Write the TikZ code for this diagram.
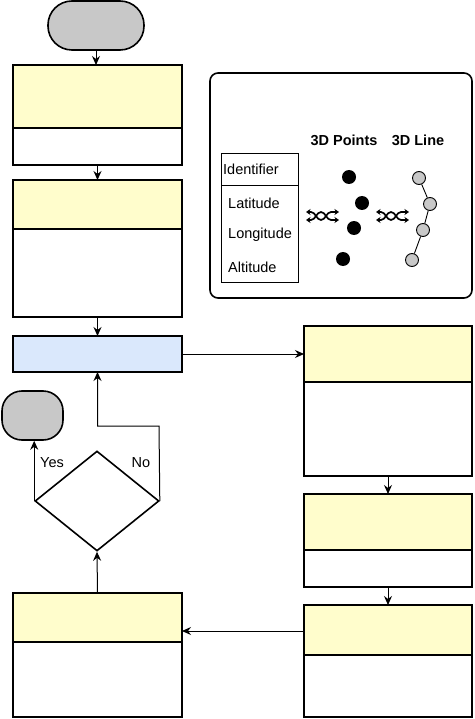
\documentclass[tikz,border=0pt]{standalone}
\usepackage{fontspec}
\setmainfont{Liberation Sans}
\usetikzlibrary{arrows.meta,shapes.geometric,positioning}
\definecolor{hdryellow}{HTML}{FFFDCC}
\definecolor{termgray}{HTML}{C8C8C8}
\definecolor{ptgray}{HTML}{C8C8C8}
\definecolor{stepblue}{HTML}{DAE8FC}
\newcommand\braidsym[1]{%
  \begin{scope}[shift={#1}]
    \draw[line width=1.7pt,{Stealth[length=4.5pt,width=6pt]}-{Stealth[length=4.5pt,width=6pt]}]
      (0,-4) -- (5,-4) .. controls (9.5,-4) and (10.5,4) .. (15,4) .. controls (19.5,4) and (20.5,-4) .. (25,-4) -- (33,-4);
    \draw[line width=1.7pt,{Stealth[length=4.5pt,width=6pt]}-{Stealth[length=4.5pt,width=6pt]}]
      (0,4) -- (5,4) .. controls (9.5,4) and (10.5,-4) .. (15,-4) .. controls (19.5,-4) and (20.5,4) .. (25,4) -- (33,4);
  \end{scope}}
\tikzset{
  boxpart/.style={draw, line width=1.6pt, inner sep=0pt, outer sep=0pt, anchor=north west},
  hdr/.style={boxpart, fill=hdryellow},
  bodyp/.style={boxpart, fill=white},
  conn/.style={line width=1pt, -{Stealth[length=9pt,width=8pt,inset=3pt]}},
  term/.style={draw, line width=1.6pt, fill=termgray, inner sep=0pt},
  lbl/.style={font=\fontsize{14.5}{16}\selectfont, inner sep=0pt},
  blk/.style={circle, fill=black, minimum size=14pt, inner sep=0pt},
  gpt/.style={circle, draw, line width=0.9pt, fill=ptgray, minimum size=13pt, inner sep=0pt},
}
\begin{document}
\begin{tikzpicture}[x=1pt,y=-1pt]
\useasboundingbox (0,0) rectangle (474,719);
% start terminal
\node[term, rounded corners=24pt, minimum width=96pt, minimum height=49pt] (start) at (96,25.5) {};
% box 1
\node[hdr, minimum width=169pt, minimum height=63pt] (b1h) at (13,65) {};
\node[bodyp, minimum width=169pt, minimum height=37pt] (b1b) at (13,128) {};
% box 2
\node[hdr, minimum width=169pt, minimum height=49pt] (b2h) at (13,180) {};
\node[bodyp, minimum width=169pt, minimum height=88pt] (b2b) at (13,229) {};
% blue step
\node[boxpart, fill=stepblue, minimum width=169pt, minimum height=36pt] (blue) at (13,336) {};
% box 3
\node[hdr, minimum width=168pt, minimum height=56pt] (b3h) at (304,326) {};
\node[bodyp, minimum width=168pt, minimum height=94pt] (b3b) at (304,382) {};
% box 4
\node[hdr, minimum width=168pt, minimum height=56pt] (b4h) at (304,494) {};
\node[bodyp, minimum width=168pt, minimum height=37pt] (b4b) at (304,550) {};
% box 5
\node[hdr, minimum width=168pt, minimum height=50pt] (b5h) at (304,605) {};
\node[bodyp, minimum width=168pt, minimum height=62pt] (b5b) at (304,655) {};
% box 6
\node[hdr, minimum width=169pt, minimum height=49pt] (b6h) at (13,593) {};
\node[bodyp, minimum width=169pt, minimum height=75pt] (b6b) at (13,642) {};
% decision
\node[diamond, draw, line width=1.6pt, minimum width=124pt, minimum height=100pt, inner sep=0pt] (dia) at (97,501) {};
% end terminal
\node[term, rounded corners=20pt, minimum width=61pt, minimum height=49pt] (endt) at (32.5,415.5) {};
% connectors
\draw[conn] (start.south) -- (start.south |- b1h.north);
\draw[conn] (b1b.south) -- (b2h.north);
\draw[conn] (b2b.south) -- (blue.north);
\draw[conn] (blue.east) -- (blue.east -| b3h.west);
\draw[conn] (b3b.south) -- (b4h.north);
\draw[conn] (b4b.south) -- (b5h.north);
\draw[conn] (b5h.west |- 0,631) -- (b6h.east |- 0,631);
\draw[conn] (b6h.north) -- (dia.south);
\draw[conn] (dia.west) -- (dia.west |- endt.south);
\coordinate (nocorner) at (159,426);
\draw[conn] (dia.east) -- (nocorner) -| (blue.south);
\node[lbl] (yes) at (52,463) {Yes};
\node[lbl] (no) at (141,463) {No};
% right panel
\node[draw, line width=1.6pt, rounded corners=8pt, minimum width=262pt, minimum height=225pt, inner sep=0pt] (panel) at (341,185.5) {};
\node[lbl, font=\fontsize{14.5}{16}\selectfont\bfseries] (pts) at (344,140) {3D Points};
\node[lbl, font=\fontsize{14.5}{16}\selectfont\bfseries] (ln) at (418,140) {3D Line};
\node[draw, line width=0.9pt, inner sep=0pt, outer sep=0pt, anchor=north west, minimum width=77pt, minimum height=32pt] (tid) at (221,153) {};
\node[draw, line width=0.9pt, inner sep=0pt, outer sep=0pt, anchor=north west, minimum width=77pt, minimum height=97pt] (tbody) at (221,185) {};
\node[lbl, anchor=west] (idf) at (223,169) {Identifier};
\node[lbl, anchor=west] (lat) at (228,203) {Latitude};
\node[lbl, anchor=west] (lon) at (228,235) {Longitude};
\node[lbl, anchor=west] (alt) at (228,267) {Altitude};
\node[blk] (p1) at (349,177) {};
\node[blk] (p2) at (362,203) {};
\node[blk] (p3) at (354,228) {};
\node[blk] (p4) at (343,259) {};
\node[gpt] (g1) at (419,178) {};
\node[gpt] (g2) at (430,204) {};
\node[gpt] (g3) at (423,230) {};
\node[gpt] (g4) at (412,260) {};
\draw[line width=0.9pt] (g1) -- (g2) -- (g3) -- (g4);
\braidsym{(306,216)}
\braidsym{(376,216)}
\end{tikzpicture}
\end{document}
